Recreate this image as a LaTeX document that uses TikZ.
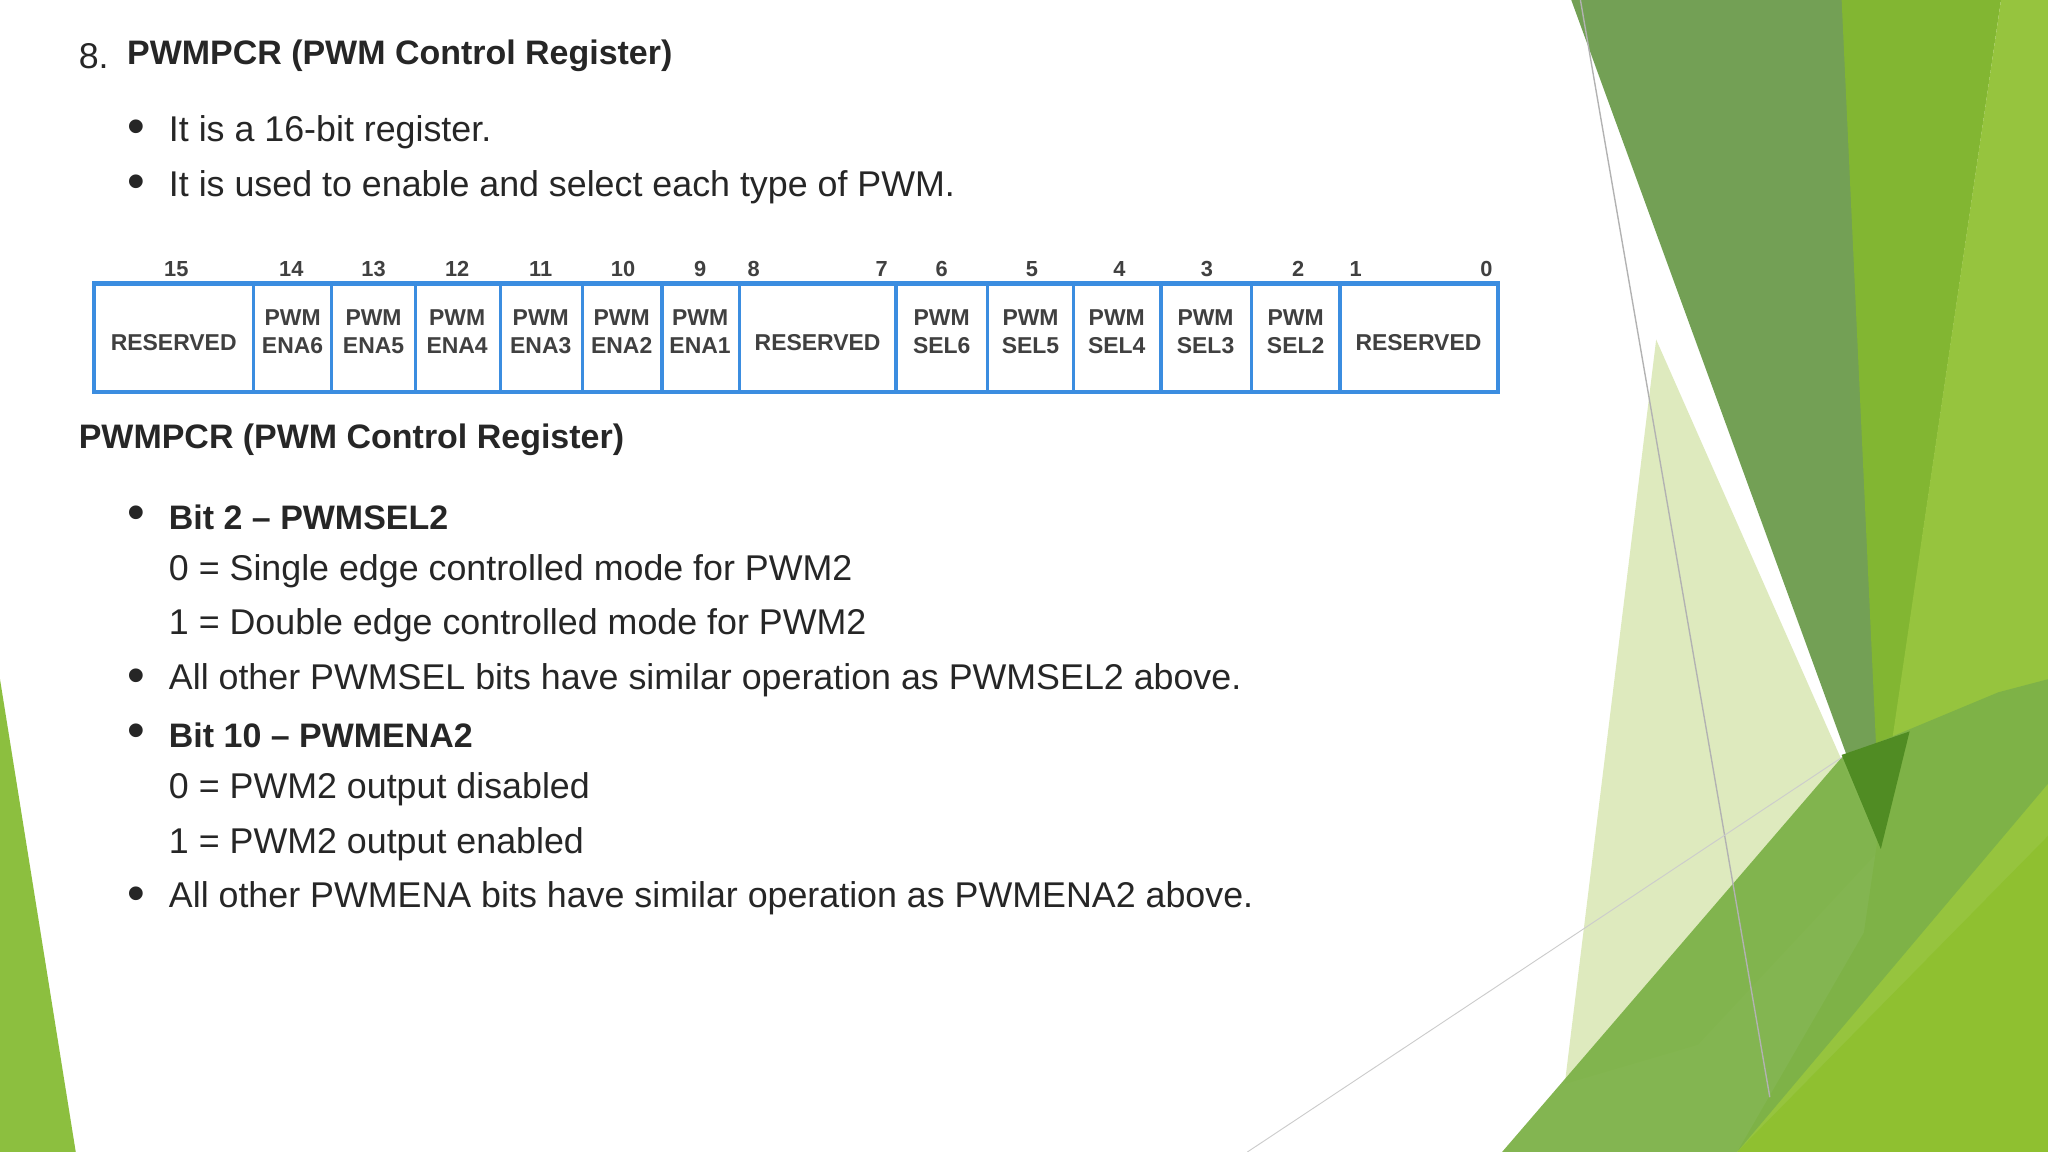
\documentclass[tikz,border=0pt]{standalone}
\usepackage{fontspec}
\setmainfont{Liberation Sans}
\begin{document}
\begin{tikzpicture}[x=0.02cm,y=-0.02cm,
 txt/.style={anchor=west,inner sep=0pt,text=black!85,font=\fontsize{15.6}{17}\selectfont},
 btxt/.style={txt,font=\fontsize{14.8}{17}\selectfont\bfseries},
 bul/.style={anchor=center,inner sep=0pt,text=black!85,font=\fontsize{22}{22}\selectfont},
 num/.style={anchor=center,inner sep=0pt,text=black!75,font=\fontsize{9.5}{11}\selectfont\bfseries},
 cell/.style={anchor=center,inner sep=0pt,align=center,text=black!75,font=\fontsize{10}{12.5}\selectfont\bfseries}]
\useasboundingbox (0,0) rectangle (1568,882);
\fill[white] (0,0) rectangle (1568,882);
% decoration right
\fill[fill={rgb,255:red,222;green,234;blue,190}] (1268,260) -- (1440,650) -- (1300,800) -- (1198,830) -- cycle;
\fill[fill={rgb,255:red,115;green,160;blue,85}] (1203,0) -- (1415,0) -- (1440,650) -- cycle;
\fill[fill={rgb,255:red,130;green,182;blue,50}] (1410,0) -- (1532,0) -- (1472,410) -- (1440,650) -- cycle;
\fill[fill={rgb,255:red,150;green,196;blue,62}] (1532,0) -- (1568,0) -- (1568,882) -- (1330,882) -- (1427,714) -- cycle;
\fill[fill={rgb,255:red,125;green,178;blue,72},opacity=0.95] (1150,882) -- (1410,580) -- (1530,530) -- (1568,520) -- (1568,600) -- (1330,882) -- cycle;
\fill[fill={rgb,255:red,80;green,140;blue,35}] (1410,578) -- (1440,650) -- (1462,560) -- cycle;
\fill[fill={rgb,255:red,143;green,192;blue,48}] (1330,882) -- (1568,640) -- (1568,882) -- cycle;
\draw[gray!60,line width=0.6pt] (1210,0) -- (1355,840);
\draw[gray!40,line width=0.4pt] (955,882) -- (1410,580);
% left wedge
\fill[fill={rgb,255:red,140;green,191;blue,63}] (0,520) -- (0,882) -- (58,882) -- cycle;
% heading
\node[txt] (h8) at (60,43) {8.};
\node[btxt] (h) at (97,43) {PWMPCR (PWM Control Register)};
\node[bul] (b1) at (104,101) {•};
\node[txt] (t1) at (129,101) {It is a 16-bit register.};
\node[bul] (b2) at (104,143) {•};
\node[txt] (t2) at (129,143) {It is used to enable and select each type of PWM.};
% register
\draw[color={rgb,255:red,59;green,141;blue,224},line width=2pt] (72,217) rectangle (1147,300);
\foreach \x in {194,254,318,383,446,507,566,686,756,822,889,958,1026}
  \draw[color={rgb,255:red,59;green,141;blue,224},line width=1.5pt] (\x,217) -- (\x,300);
\foreach \x/\n in {135/15,223/14,286/13,350/12,414/11,477/10,536/9,577/8,675/7,721/6,790/5,857/4,924/3,994/2,1038/1,1138/0}
  \node[num] at (\x,206) {\n};
\node[cell] (r15) at (133,262) {RESERVED};
\node[cell] (e6) at (224,254) {PWM\\ENA6};
\node[cell] (e5) at (286,254) {PWM\\ENA5};
\node[cell] (e4) at (350,254) {PWM\\ENA4};
\node[cell] (e3) at (414,254) {PWM\\ENA3};
\node[cell] (e2) at (476,254) {PWM\\ENA2};
\node[cell] (e1) at (536,254) {PWM\\ENA1};
\node[cell] (r8) at (626,262) {RESERVED};
\node[cell] (s6) at (721,254) {PWM\\SEL6};
\node[cell] (s5) at (789,254) {PWM\\SEL5};
\node[cell] (s4) at (855,254) {PWM\\SEL4};
\node[cell] (s3) at (923,254) {PWM\\SEL3};
\node[cell] (s2) at (992,254) {PWM\\SEL2};
\node[cell] (r1) at (1086,262) {RESERVED};
% second part
\node[btxt] (h2) at (60,337) {PWMPCR (PWM Control Register)};
\node[bul] (c1) at (104,396) {•};
\node[btxt] (u1) at (129,396) {Bit 2 – PWMSEL2};
\node[txt] (u2) at (129,437) {0 = Single edge controlled mode for PWM2};
\node[txt] (u3) at (129,479) {1 = Double edge controlled mode for PWM2};
\node[bul] (c2) at (104,521) {•};
\node[txt] (u4) at (129,521) {All other PWMSEL bits have similar operation as PWMSEL2 above.};
\node[bul] (c3) at (104,563) {•};
\node[btxt] (u5) at (129,563) {Bit 10 – PWMENA2};
\node[txt] (u6) at (129,604) {0 = PWM2 output disabled};
\node[txt] (u7) at (129,646) {1 = PWM2 output enabled};
\node[bul] (c4) at (104,688) {•};
\node[txt] (u8) at (129,688) {All other PWMENA bits have similar operation as PWMENA2 above.};
\end{tikzpicture}
\end{document}
